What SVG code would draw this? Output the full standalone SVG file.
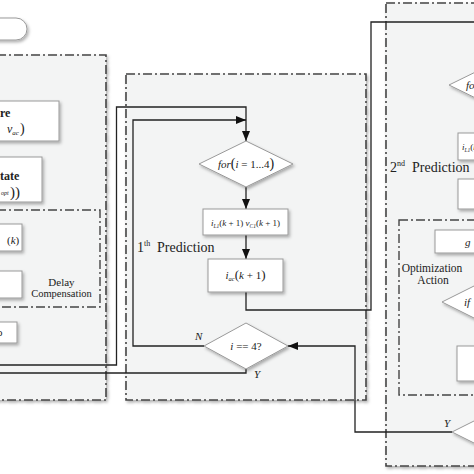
<svg xmlns="http://www.w3.org/2000/svg" width="474" height="474" viewBox="0 0 474 474">
<defs>
<filter id="sh" x="-20%" y="-20%" width="150%" height="160%">
<feDropShadow dx="1.5" dy="2" stdDeviation="1.5" flood-color="#000" flood-opacity="0.3"/>
</filter>
<marker id="ar" viewBox="0 0 10 8" refX="10" refY="4" markerWidth="10" markerHeight="8" markerUnits="userSpaceOnUse" orient="auto">
<path d="M0,0 L10,4 L0,8 Z" fill="#111"/>
</marker>
</defs>
<style>
.cont{fill:#f3f4f4;stroke:#444;stroke-width:1.6;stroke-dasharray:9 3 2 3;filter:url(#sh)}
.inner{fill:none;stroke:#444;stroke-width:1.4;stroke-dasharray:9 3 2 3}
.box{fill:#fff;stroke:#999;stroke-width:1;filter:url(#sh)}
.dia{fill:#fff;stroke:#999;stroke-width:1;filter:url(#sh)}
.ln{fill:none;stroke:#222;stroke-width:1.3}
text{font-family:"Liberation Serif","Times New Roman",serif;fill:#222}
.m{font-size:11px}
.i{font-style:italic}
.lab{font-size:11px}
.big{font-size:14px}
</style>
<rect width="474" height="474" fill="#fff"/>

<g id="containers">
<rect class="cont" x="-20" y="55" width="126" height="345"/>
<rect class="cont" x="126" y="74" width="240" height="326"/>
<rect class="cont" x="386" y="3" width="120" height="463"/>
<rect class="inner" x="-20" y="210" width="120" height="97"/>
<rect class="inner" x="399" y="220" width="100" height="175"/>
</g>

<g id="labels">
<text x="61.5" y="286" text-anchor="middle" class="lab" font-size="10.5">Delay</text>
<text x="61.5" y="297" text-anchor="middle" font-size="10.5">Compensation</text>
<text x="137" y="252" class="big">1<tspan font-size="8" dy="-6">th</tspan><tspan dy="6" x="157">Prediction</tspan></text>
<text x="390" y="172" class="big">2<tspan font-size="8" dy="-6">nd</tspan><tspan dy="6" x="412">Prediction</tspan></text>
<text x="432" y="272" text-anchor="middle" font-size="11.5">Optimization</text>
<text x="433" y="284" text-anchor="middle" font-size="11.5">Action</text>
</g>

<g id="connectors">
<path class="ln" d="M-5,365 H116.5 V107 H246 V141" marker-end="url(#ar)"/>
<path class="ln" d="M204,346 H133 V120 H246" marker-end="url(#ar)"/>
<path class="ln" d="M246,187 V209" marker-end="url(#ar)"/>
<path class="ln" d="M246,235 V259" marker-end="url(#ar)"/>
<path class="ln" d="M246,292 V310 H371 V22 H480"/>
<path class="ln" d="M246,369 V373 H-5"/>
<path class="ln" d="M452,432 H355 V346 H288" marker-end="url(#ar)"/>
<text x="195" y="340" class="i" font-size="11">N</text>
<text x="254" y="378" class="i" font-size="11">Y</text>
<text x="444" y="427" class="i" font-size="11">Y</text>
</g>

<g id="start">
<rect class="box" x="-30" y="18" width="57" height="22" rx="11"/>
</g>
<g id="measure">
<rect class="box" x="-40" y="101" width="99" height="40"/>
<text x="0" y="117" font-size="12" font-weight="bold">re</text>
<text x="7" y="133" font-size="12"><tspan class="i">v</tspan><tspan font-size="7" class="i" dy="2">ac</tspan><tspan dy="-2" font-size="14" dx="1">)</tspan></text>
</g>
<g id="state">
<rect class="box" x="-40" y="157" width="82" height="45"/>
<text x="0" y="180" font-size="12" font-weight="bold">tate</text>
<text x="1" y="195" font-size="6" class="i">opt</text>
<text x="10" y="197" font-size="15">))</text>
</g>
<g id="delay1">
<rect class="box" x="-40" y="224" width="62" height="27"/>
<text x="7" y="244" class="m">(<tspan class="i">k</tspan>)</text>
</g>
<g id="delay2">
<rect class="box" x="-40" y="271" width="62" height="27"/>
</g>
<g id="end-left">
<rect class="box" x="-40" y="322" width="57" height="21"/>
<text x="-3" y="336" class="m">o</text>
</g>

<g id="for1">
<polygon class="dia" points="246,141 293,164 246,187 199,164"/>
<text x="246" y="168" text-anchor="middle" class="m"><tspan class="i">for</tspan><tspan font-size="14">(</tspan><tspan class="i">i</tspan> = 1...4<tspan font-size="14">)</tspan></text>
</g>
<g id="pred1">
<rect class="box" x="203" y="209" width="85" height="26"/>
<text x="245.5" y="226" text-anchor="middle" font-size="9"><tspan class="i">i</tspan><tspan font-size="5.5" class="i" dy="2">L1</tspan><tspan dy="-2">(<tspan class="i">k</tspan> + 1) </tspan><tspan class="i">v</tspan><tspan font-size="5.5" class="i" dy="2">C1</tspan><tspan dy="-2">(<tspan class="i">k</tspan> + 1)</tspan></text>
</g>
<g id="iac1">
<rect class="box" x="208" y="259" width="75" height="33"/>
<text x="245.5" y="279" text-anchor="middle" class="m"><tspan class="i">i</tspan><tspan font-size="6.5" class="i" dy="2">ac</tspan><tspan dy="-2" font-size="13">(</tspan><tspan class="i">k</tspan> + 1<tspan font-size="13">)</tspan></text>
</g>
<g id="check1">
<polygon class="dia" points="246,323 288,346 246,369 204,346"/>
<text x="246" y="350" text-anchor="middle" class="m"><tspan class="i">i</tspan> == 4?</text>
</g>

<g id="for2">
<polygon class="dia" points="496,62 543,85 496,108 449,85"/>
<text x="466" y="89" class="m"><tspan class="i">for</tspan></text>
</g>
<g id="pred2">
<rect class="box" x="458" y="133" width="85" height="27"/>
<text x="462" y="150" font-size="9"><tspan class="i">i</tspan><tspan font-size="5.5" class="i" dy="2">L1</tspan><tspan dy="-2">(<tspan class="i">k</tspan></tspan></text>
</g>
<g id="iac2">
<rect class="box" x="458" y="179" width="85" height="30"/>
</g>
<g id="cost">
<rect class="box" x="435" y="230" width="90" height="23"/>
<text x="465" y="246" class="m i">g</text>
</g>
<g id="if">
<polygon class="dia" points="496,275 550,302 496,329 442,302"/>
<text x="464" y="306" class="m i">if</text>
</g>
<g id="update">
<rect class="box" x="457" y="346" width="80" height="35"/>
</g>
<g id="check2">
<polygon class="dia" points="500,408 548,432 500,456 452,432"/>
</g>
</svg>
